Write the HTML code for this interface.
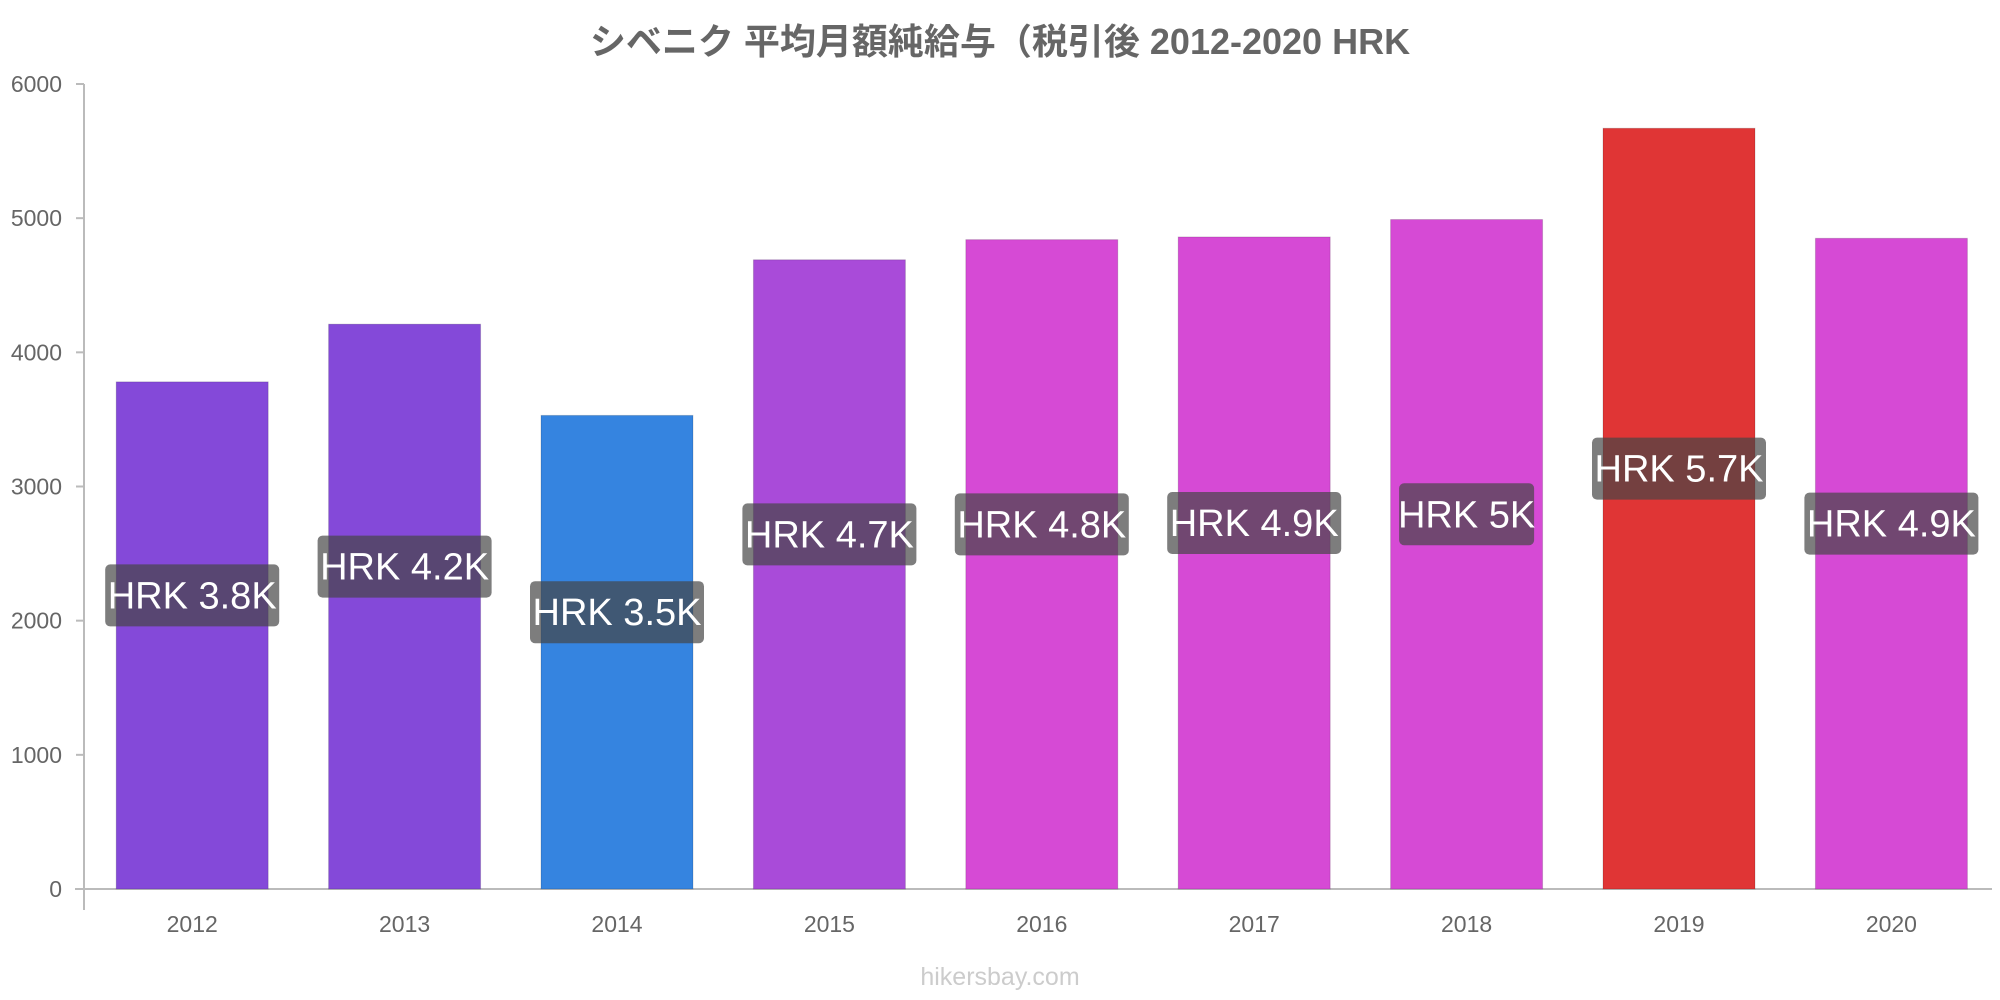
<!DOCTYPE html>
<html><head><meta charset="utf-8"><style>body{margin:0;background:#fff}svg{display:block}</style></head>
<body>
<svg id="chart" width="2000" height="1000" font-family="'Liberation Sans','Noto Sans CJK JP',sans-serif">
<text x="1000" y="54" text-anchor="middle" font-size="36" font-weight="bold" fill="#666">シベニク 平均月額純給与（税引後 2012-2020 HRK</text>
<line x1="84" y1="84" x2="84" y2="910" stroke="#bbb" stroke-width="2"/>
<line x1="75" y1="889" x2="1992" y2="889" stroke="#bbb" stroke-width="2"/>
<text x="1000" y="985" text-anchor="middle" font-size="25" fill="#ccc">hikersbay.com</text>
<g id="bars"></g>
</svg>
<script>
const categories=["2012","2013","2014","2015","2016","2017","2018","2019","2020"];
const values=[3780,4210,3530,4690,4840,4860,4990,5670,4850];
const labels=["HRK 3.8K","HRK 4.2K","HRK 3.5K","HRK 4.7K","HRK 4.8K","HRK 4.9K","HRK 5K","HRK 5.7K","HRK 4.9K"];
const colors=["#8449d9","#8449d9","#3584e0","#a94bd9","#d64ad5","#d64ad5","#d64ad5","#e03535","#d64ad5"];
const yTicks=[0,1000,2000,3000,4000,5000,6000];
const NS="http://www.w3.org/2000/svg";
const svg=document.getElementById('bars');
const y=v=>889-v*(805/6000);
const step=212.4, x0=84, bw=152;
const xc=i=>x0+step*(i+0.5)+2;
function mk(t,a){const e=document.createElementNS(NS,t);for(const k in a)e.setAttribute(k,a[k]);svg.appendChild(e);return e;}
yTicks.forEach(v=>{
 const t=mk('text',{x:62,y:y(v)+8,'text-anchor':'end','font-size':23,fill:'#666'});
 
 
 t.textContent=v;
 const l=mk('line',{x1:76,x2:84,y1:y(v),y2:y(v),stroke:'#bbb','stroke-width':2});
 
 
});
categories.forEach((c,i)=>{
 const cx=xc(i), top=y(values[i]);
 const r=mk('rect',{x:cx-bw/2,y:top,width:bw,height:889-top,fill:colors[i],stroke:'rgba(0,0,0,0.15)'});
 
 
 const t=mk('text',{x:cx,y:932,'text-anchor':'middle','font-size':23,fill:'#666'});
 
 
 t.textContent=c;
 const ly=(top+889)/2-40;
 const w=labels[i].length*19.5+18;
 const b=mk('rect',{x:cx-w/2,y:ly-31,width:w,height:62,rx:5,fill:'rgba(70,70,70,0.7)'});
 
 
 const lt=mk('text',{x:cx,y:ly+13,'text-anchor':'middle','font-size':38,fill:'#fff'});
 
 
 lt.textContent=labels[i];
});
</script>
</body></html>
